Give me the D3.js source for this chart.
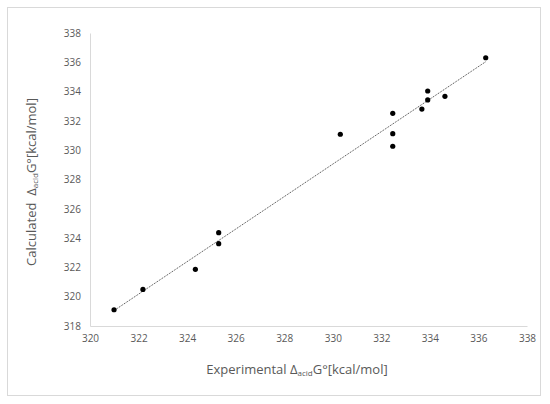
<!DOCTYPE html>
<html><head><meta charset="utf-8">
<script src="https://cdn.jsdelivr.net/npm/d3@7"></script>
<style>body{margin:0;background:#fff}svg{display:block}</style>
</head><body>
<script>
const expValues = [320.99, 322.18, 324.34, 325.30, 325.30, 330.31, 332.47, 332.47, 332.47, 333.67, 333.91, 333.91, 334.62, 336.30];
const calcValues = [319.11, 320.50, 321.87, 324.37, 323.62, 331.09, 332.52, 331.13, 330.27, 332.81, 334.04, 333.43, 333.68, 336.31];
const xTicks = [320, 322, 324, 326, 328, 330, 332, 334, 336, 338];
const yTicks = [318, 320, 322, 324, 326, 328, 330, 332, 334, 336, 338];

const W = 550, H = 404;
const svg = d3.select("body").append("svg").attr("width", W).attr("height", H);
svg.append("rect").attr("x", 7.5).attr("y", 7.5).attr("width", 533).attr("height", 388)
  .attr("fill", "#fff").attr("stroke", "#d9d9d9");

const x = d3.scaleLinear().domain([320, 338]).range([90, 527]);
const y = d3.scaleLinear().domain([318, 338]).range([326, 33]);
const font = "'Open Sans', 'Liberation Sans', sans-serif";

const xa = svg.append("g").attr("transform", "translate(0,326)")
  .call(d3.axisBottom(x).tickValues(xTicks).tickSize(0).tickPadding(9).tickFormat(d3.format("d")));
const ya = svg.append("g").attr("transform", "translate(90,0)")
  .call(d3.axisLeft(y).tickValues(yTicks).tickSize(0).tickPadding(9).tickFormat(d3.format("d")));
[xa, ya].forEach(a => {
  a.select(".domain").attr("stroke", "#d9d9d9");
  a.selectAll("text").attr("fill", "#595959").style("font-family", font).style("font-size", "10px");
});

// trendline (linear regression)
const n = expValues.length;
const mx = d3.mean(expValues), my = d3.mean(calcValues);
let sxy = 0, sxx = 0;
for (let i = 0; i < n; i++) { sxy += (expValues[i]-mx)*(calcValues[i]-my); sxx += (expValues[i]-mx)**2; }
const b = sxy / sxx, a0 = my - b * mx;
const x0 = d3.min(expValues), x1 = d3.max(expValues);
svg.append("line").attr("x1", x(x0)).attr("y1", y(a0 + b*x0)).attr("x2", x(x1)).attr("y2", y(a0 + b*x1))
  .attr("stroke", "#404040").attr("stroke-width", 1).attr("stroke-dasharray", "1,1");

svg.append("g").selectAll("circle").data(expValues).join("circle")
  .attr("cx", d => x(d)).attr("cy", (d, i) => y(calcValues[i])).attr("r", 2.6).attr("fill", "#000");

// axis titles
const xt = svg.append("text").attr("x", 297).attr("y", 374).attr("text-anchor", "middle")
  .attr("fill", "#595959").style("font-family", font).style("font-size", "13px");
xt.append("tspan").text("Experimental Δ");
xt.append("tspan").text("acid").attr("baseline-shift", "-25%").style("font-size", "8px");
xt.append("tspan").text("G°[kcal/mol]");

const yt = svg.append("text").attr("transform", "translate(36,182) rotate(-90)").attr("text-anchor", "middle")
  .attr("fill", "#595959").style("font-family", font).style("font-size", "13px").style("white-space", "pre");
yt.append("tspan").text("Calculated  Δ");
yt.append("tspan").text("acid").attr("baseline-shift", "-25%").style("font-size", "8px");
yt.append("tspan").text("G°[kcal/mol]");
</script>
</body></html>
